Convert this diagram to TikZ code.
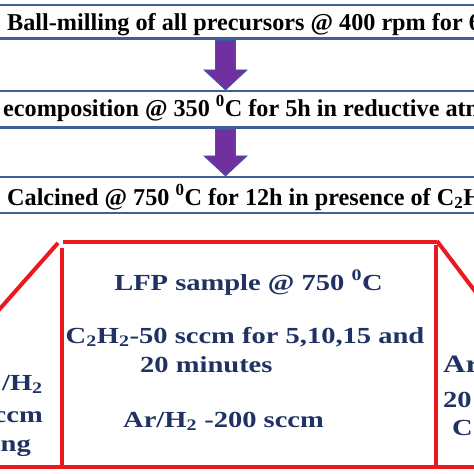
\documentclass[tikz,border=0pt]{standalone}
\usepackage{fontspec}
\setmainfont{Liberation Serif}
\usetikzlibrary{calc}
\definecolor{boxblue}{RGB}{62,96,150}
\definecolor{arrpurple}{RGB}{112,48,160}
\definecolor{arredge}{RGB}{60,90,160}
\definecolor{redline}{RGB}{235,25,30}
\definecolor{navy}{RGB}{31,50,99}
\newcommand{\sx}[1]{\scalebox{1.24}[1]{#1}}
\begin{document}
\begin{tikzpicture}[x=1pt,y=-1pt,
  stepbox/.style={draw=boxblue, line width=2.2pt, minimum width=520pt, inner sep=0pt},
  steptext/.style={font=\fontsize{24.2}{28}\selectfont\bfseries, inner sep=0pt, anchor=base west, text=black},
  flowarrow/.style={fill=arrpurple, draw=arredge, line width=0.8pt},
  oven/.style={draw=redline, line width=4pt},
  gastext/.style={font=\fontsize{23}{27}\selectfont\bfseries, text=navy, inner sep=0pt}]
\useasboundingbox (0,0) rectangle (474,474);
\clip (0,0) rectangle (474,474);
\fill[white] (0,0) rectangle (474,474);
% step boxes
\node[stepbox, minimum height=33.5pt] (b1) at (237,21.75) {};
\node[stepbox, minimum height=36.5pt] (b2) at (237,109.25) {};
\node[stepbox, minimum height=36pt] (b3) at (237,195) {};
\coordinate (ax) at (225.5,0);
\path (b1.south -| ax) coordinate (a1s) (b2.north -| ax) coordinate (a1e);
\path (b2.south -| ax) coordinate (a2s) (b3.north -| ax) coordinate (a2e);
\draw[flowarrow] ($(a1s)+(-10,1)$) -- ($(a1e)+(-10,-20)$) -- ($(a1e)+(-21.5,-20)$) -- (a1e) -- ($(a1e)+(21.5,-20)$) -- ($(a1e)+(10,-20)$) -- ($(a1s)+(10,1)$) -- cycle;
\draw[flowarrow] ($(a2s)+(-10,1)$) -- ($(a2e)+(-10,-20)$) -- ($(a2e)+(-21.5,-20)$) -- (a2e) -- ($(a2e)+(21.5,-20)$) -- ($(a2e)+(10,-20)$) -- ($(a2s)+(10,1)$) -- cycle;
\node[steptext] (t1) at (7,30) {Ball-milling of all precursors @ 400 rpm for 6};
\node[steptext] (t2) at (3,116) {ecomposition @ 350 \textsuperscript{0}C for 5h in reductive atm};
\node[steptext] (t3) at (7,205) {Calcined @ 750 \textsuperscript{0}C for 12h in presence of C\textsubscript{2}H};
% furnace outline
\draw[oven] (63,242) -- (437,242);
\draw[oven] (58,243) -- (-10,320);
\draw[oven] (437,241) -- (490,311);
\draw[oven] (62,248) -- (62,467);
\draw[oven] (436,245) -- (436,467);
\draw[oven] (-10,467) -- (490,467);
% furnace texts
\node[gastext, anchor=base] (g1) at (248.5,290) {\sx{LFP sample @ 750 \textsuperscript{0}C}};
\node[gastext, anchor=base] (g2) at (245,343) {\sx{C\textsubscript{2}H\textsubscript{2}-50 sccm for 5,10,15 and}};
\node[gastext, anchor=base west] (g3) at (140,372) {\sx{20 minutes}};
\node[gastext, anchor=base west] (g4) at (123,427) {\sx{Ar/H\textsubscript{2} -200 sccm}};
\node[gastext, anchor=base east] (l1) at (43,390) {\sx{/H\textsubscript{2}}};
\node[gastext, anchor=base east] (l2) at (43,422) {\sx{ccm}};
\node[gastext, anchor=base east] (l3) at (31,451) {\sx{ng}};
\node[gastext, anchor=base west, font=\fontsize{25}{30}\selectfont\bfseries] (r1) at (443,372) {\sx{Ar}};
\node[gastext, anchor=base west] (r2) at (443,407) {\sx{20}};
\node[gastext, anchor=base west] (r3) at (452,435) {\sx{C}};
\end{tikzpicture}
\end{document}
